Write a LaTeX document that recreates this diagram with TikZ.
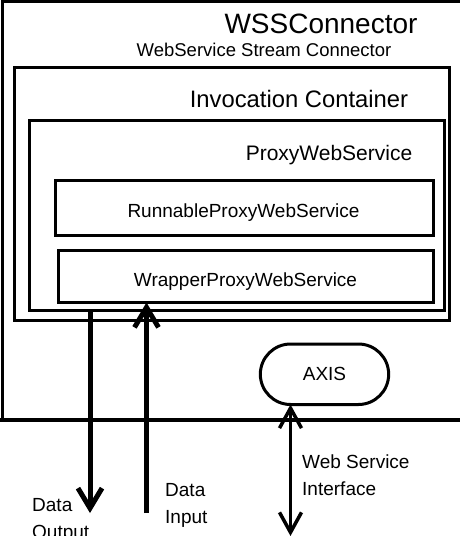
\documentclass[tikz,border=0pt]{standalone}
\usepackage{fontspec}
\setmainfont{Liberation Sans}
\usetikzlibrary{positioning, arrows.meta, shapes.misc}

\begin{document}
\begin{tikzpicture}[x=1pt, y=-1pt,
    box/.style={draw, line width=3pt, inner sep=0pt, outer sep=0pt, anchor=north west},
    pill/.style={draw, line width=3pt, rounded rectangle, outer sep=0pt, minimum width=135pt, minimum height=60.5pt, font=\fontsize{19}{23}\selectfont},
    txt/.style={inner sep=0pt, font=\fontsize{19}{27.5}\selectfont},
    flow/.style={line width=5pt, -{Straight Barb[length=20pt,width=24pt]}},
    link/.style={line width=3.5pt, {Straight Barb[length=20pt,width=22pt]}-{Straight Barb[length=20pt,width=22pt]}}]
    \useasboundingbox (0,0) rectangle (459,536);

    % containers
    \node[box, minimum width=500pt, minimum height=419pt] (wss) at (2,1) {};
    \draw[line width=4pt] (0,420) -- (wss.south east);
    \node[box, minimum width=435pt, minimum height=253pt] (invoc) at (14.5,67.5) {};
    \node[box, minimum width=415pt, minimum height=190pt] (proxy) at (29.5,120.5) {};
    \node[box, minimum width=378.5pt, minimum height=55pt] (runnable) at (55,180) {};
    \node[box, minimum width=375pt, minimum height=52.5pt] (wrapper) at (58.5,250) {};
    \node[pill] (axis) at (324.5,374.25) {AXIS};

    % titles
    \node[txt, anchor=base, font=\fontsize{28}{32}\selectfont] (wssTitle) at (321,33) {WSSConnector};
    \node[txt, anchor=base, font=\fontsize{18.5}{22}\selectfont] (wssSub) at (264,56) {WebService Stream Connector};
    \node[txt, anchor=base, font=\fontsize{23.8}{28}\selectfont] (invocTitle) at (299,107) {Invocation Container};
    \node[txt, anchor=base, font=\fontsize{21}{25}\selectfont] (proxyTitle) at (329,160) {ProxyWebService};
    \node[txt, anchor=base] (runnableTitle) at (243.5,217) {RunnableProxyWebService};
    \node[txt, anchor=base] (wrapperTitle) at (245.5,286) {WrapperProxyWebService};

    % connectors
    \coordinate (outEnd) at (90,513);
    \coordinate (inStart) at (146.5,513);
    \coordinate (wsEnd) at (290.5,536);
    \draw[flow] (proxy.south -| outEnd) -- (outEnd);
    \draw[flow] (inStart) -- (inStart |- wrapper.south);
    \draw[link] (axis.south -| wsEnd) -- (wsEnd);

    % labels (base = last line)
    \node[txt, anchor=base west, align=left] (outLbl) at (32,538.5) {Data\\Output};
    \node[txt, anchor=base west, align=left] (inLbl) at (165,523.5) {Data\\Input};
    \node[txt, anchor=base west, align=left] (wsLbl) at (302,495.5) {Web Service\\Interface};
\end{tikzpicture}
\end{document}
